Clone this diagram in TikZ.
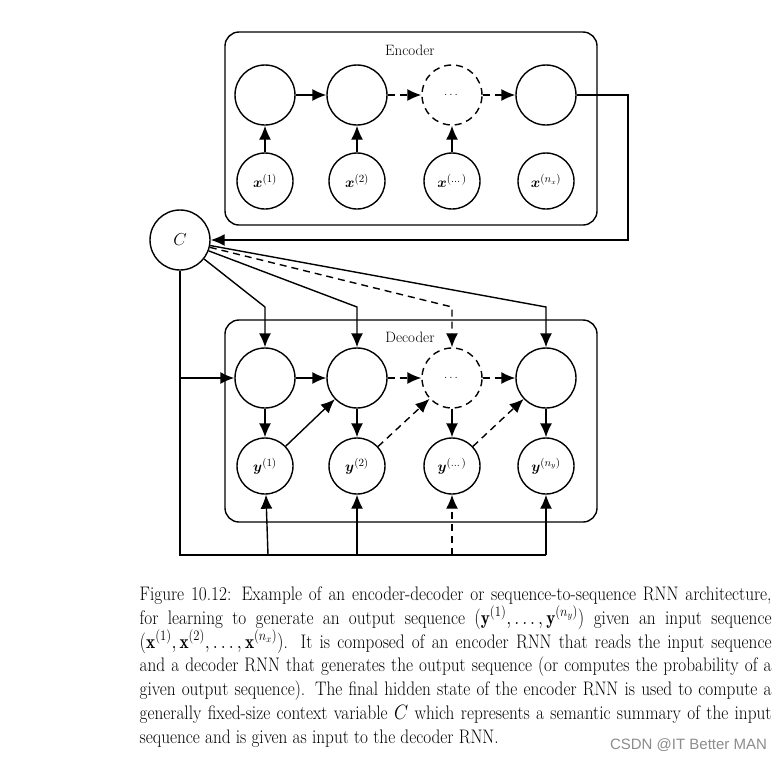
\documentclass[tikz,border=0pt]{standalone}
\usepackage{amsmath,bm}
\usepackage{fontspec}
\newfontfamily\wm{Liberation Sans}
\usetikzlibrary{arrows.meta}
\begin{document}
\begin{tikzpicture}[x=1pt,y=-1pt,line width=1.4pt,
  arr/.style={-{Latex[length=14pt,width=12pt]}},
  dsh/.style={dash pattern=on 7pt off 5pt},
  hid/.style={circle,draw,minimum size=60pt,inner sep=0pt,font=\fontsize{13}{15}\selectfont},
  io/.style={circle,draw,minimum size=56pt,inner sep=0pt,font=\fontsize{15}{17}\selectfont},
  box/.style={draw,rounded corners=14pt}]
\useasboundingbox (0,0) rectangle (784,761);
% boxes
\node[box,minimum width=372pt,minimum height=193pt] (enc) at (411,128.5) {};
\node[box,minimum width=372pt,minimum height=202pt] (dec) at (411,421) {};
\node[font=\fontsize{15}{17}\selectfont] (encl) at (410,50) {Encoder};
\node[font=\fontsize{15}{17}\selectfont] (decl) at (410,337) {Decoder};
% encoder
\node[hid] (e1) at (265,95) {};
\node[hid] (e2) at (357,95) {};
\node[hid,dsh] (e3) at (452,95) {$\dots$};
\node[hid] (e4) at (546,95) {};
\node[io] (x1) at (265,181) {$\bm{x}^{(1)}$};
\node[io] (x2) at (357,181) {$\bm{x}^{(2)}$};
\node[io] (x3) at (452,181) {$\bm{x}^{(\dots)}$};
\node[io] (x4) at (546,181) {$\bm{x}^{(n_x)}$};
\draw[arr] (e1)--(e2);
\draw[arr,dsh] (e2)--(e3);
\draw[arr,dsh] (e3)--(e4);
\draw[arr] (x1)--(e1);
\draw[arr] (x2)--(e2);
\draw[arr] (x3)--(e3);
% C
\node[circle,draw,minimum size=60pt,inner sep=0pt,font=\fontsize{16}{18}\selectfont] (C) at (180,240) {$C$};
\coordinate (r1) at (628,95);
\coordinate (r2) at (628,240);
\draw[arr] (e4.east)--(r1)--(r2)--(C.east);
% decoder
\node[hid] (h1) at (265,378) {};
\node[hid] (h2) at (357,378) {};
\node[hid,dsh] (h3) at (452,378) {$\dots$};
\node[hid] (h4) at (546,378) {};
\node[io] (y1) at (265,466) {$\bm{y}^{(1)}$};
\node[io] (y2) at (357,466) {$\bm{y}^{(2)}$};
\node[io] (y3) at (452,466) {$\bm{y}^{(\dots)}$};
\node[io] (y4) at (546,466) {$\bm{y}^{(n_y)}$};
\draw[arr] (h1)--(h2);
\draw[arr,dsh] (h2)--(h3);
\draw[arr,dsh] (h3)--(h4);
\foreach \i in {1,2,3,4}{\draw[arr] (h\i)--(y\i);}
\draw[arr] (y1)--(h2);
\draw[arr,dsh] (y2)--(h3);
\draw[arr,dsh] (y3)--(h4);
% C to decoder
\coordinate (t1) at (265,307); \coordinate (t2) at (357,307);
\coordinate (t3) at (452,307); \coordinate (t4) at (546,307);
\draw[arr] (C)--(t1)--(h1);
\draw[arr] (C)--(t2)--(h2);
\draw[arr,dsh] (C)--(t3)--(h3);
\draw[arr] (C)--(t4)--(h4);
% bottom feed
\coordinate (cb) at (180,555); \coordinate (cm) at (180,378);
\coordinate (b1) at (268,555); \coordinate (b2) at (357,555);
\coordinate (b3) at (452,555); \coordinate (b4) at (546,555);
\draw (C.south)--(cb)--(b4);
\draw[arr] (cm)--(h1);
\draw[arr] (b1)--(y1);
\draw[arr] (b2)--(y2);
\draw[arr,dsh] (b3)--(y3);
\draw[arr] (b4)--(y4);
% caption
\node[anchor=north west,inner sep=0pt] (cap) at (139,586)
{\scalebox{0.88}[1]{\parbox{718pt}{\fontsize{19.6}{23.8}\selectfont
Figure 10.12: Example of an encoder-decoder or sequence-to-sequence RNN architecture, for learning to generate an output sequence $(\mathbf{y}^{(1)},\dots,\mathbf{y}^{(n_y)})$ given an input sequence $(\mathbf{x}^{(1)},\mathbf{x}^{(2)},\dots,\mathbf{x}^{(n_x)})$. It is composed of an encoder RNN that reads the input sequence and a decoder RNN that generates the output sequence (or computes the probability of a given output sequence). The final hidden state of the encoder RNN is used to compute a generally fixed-size context variable $C$ which represents a semantic summary of the input sequence and is given as input to the decoder RNN.}}};
\node[anchor=east,text=black!45,font=\wm\fontsize{15}{17}\selectfont] (wmk) at (771,745) {CSDN @IT Better MAN};
\end{tikzpicture}
\end{document}
